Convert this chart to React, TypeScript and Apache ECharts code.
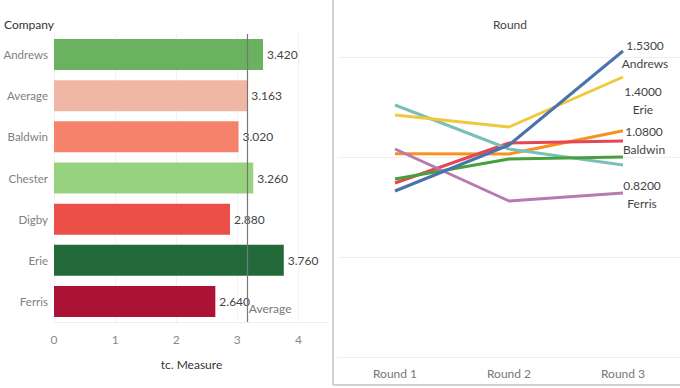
import React, { useEffect, useRef } from "react";
import * as echarts from "echarts";

const companies = ["Andrews", "Average", "Baldwin", "Chester", "Digby", "Erie", "Ferris"];
const tcMeasure = [3.42, 3.163, 3.02, 3.26, 2.88, 3.76, 2.64];
const barColors = ["#6ab25f", "#f0b7a4", "#f7826b", "#97d37f", "#ec4e48", "#236a3b", "#ab1236"];
const averageValue = 3.163;
const xTicks = [0, 1, 2, 3, 4];

const rounds = ["Round 1", "Round 2", "Round 3"];
const andrews = [0.83, 1.06, 1.53];
const average = [1.0167, 1.015, 1.1317];
const baldwin = [0.87, 1.07, 1.08];
const chester = [1.26, 1.04, 0.96];
const digby = [0.89, 0.99, 1.0];
const erie = [1.21, 1.15, 1.4];
const ferris = [1.04, 0.78, 0.82];
const lineColors = ["#4874ab", "#f8911f", "#e64553", "#7cbfb8", "#45a03d", "#f1c83a", "#b57ab0"];
const lineData = [andrews, average, baldwin, chester, digby, erie, ferris];
const labelled: Record<string, number[]> = {
  Andrews: [22, 3],
  Erie: [20, 23],
  Baldwin: [21, -1],
  Ferris: [19, 1],
};

const FONT = "Lato";

export default function App() {
  const ref = useRef<HTMLDivElement>(null);
  useEffect(() => {
    if (!ref.current) return;
    const chart = echarts.init(ref.current, undefined, { renderer: "svg" });
    const lineSeries = companies.map((name, i) => {
      const off = labelled[name];
      return {
        type: "line",
        name,
        xAxisIndex: 1,
        yAxisIndex: 1,
        data: lineData[i],
        symbol: "none",
        clip: false,
        z: name === "Andrews" ? 10 : 5,
        lineStyle: { width: 3, color: lineColors[i] },
        itemStyle: { color: lineColors[i] },
        endLabel: off
          ? {
              show: true,
              formatter: (p: any) => Number(p.value).toFixed(4) + "\n" + p.seriesName,
              align: "center",
              verticalAlign: "middle",
              distance: 0,
              offset: off,
              color: "#444",
              fontFamily: FONT,
              fontSize: 12,
              lineHeight: 18,
            }
          : { show: false },
      };
    });
    chart.setOption({
      animation: false,
      textStyle: { fontFamily: FONT },
      graphic: [
        { type: "text", left: 4, top: 18, style: { text: "Company", fill: "#333", fontSize: 12, fontFamily: FONT } },
        { type: "text", x: 510, y: 24, style: { text: "Round", fill: "#444", fontSize: 12, fontFamily: FONT, align: "center", verticalAlign: "middle" } },
        { type: "line", shape: { x1: 333, y1: 0, x2: 333, y2: 385 }, style: { stroke: "#bcc3cf", lineWidth: 1.5 } },
        { type: "line", shape: { x1: 333, y1: 385, x2: 680, y2: 385 }, style: { stroke: "#bcc3cf", lineWidth: 1.5 } },
      ],
      grid: [
        { left: 54, top: 34, width: 275, height: 288 },
        { left: 338, top: 57, right: 0, height: 300 },
      ],
      xAxis: [
        {
          type: "value",
          gridIndex: 0,
          min: 0,
          max: 4.5,
          interval: 1,
          name: "tc. Measure",
          nameLocation: "middle",
          nameGap: 36,
          nameTextStyle: { color: "#333", fontSize: 12, fontFamily: FONT },
          axisLine: { show: true, lineStyle: { color: "#eee" } },
          axisTick: { show: false },
          axisLabel: {
            color: "#888",
            fontSize: 12,
            margin: 11,
            formatter: (v: number) => (xTicks.includes(v) ? String(v) : ""),
          },
          splitLine: { show: true, lineStyle: { color: ["#f2f2f2", "#f2f2f2", "#f2f2f2", "#f2f2f2", "#f2f2f2", "rgba(0,0,0,0)"] } },
        },
        {
          type: "category",
          gridIndex: 1,
          data: rounds,
          axisLine: { show: true, lineStyle: { color: "#eee" } },
          axisTick: { show: false },
          axisLabel: { color: "#777", fontSize: 12, margin: 10 },
        },
      ],
      yAxis: [
        {
          type: "category",
          gridIndex: 0,
          inverse: true,
          data: companies,
          axisLine: { show: false },
          axisTick: { show: false },
          axisLabel: { color: "#808080", fontSize: 11.5, margin: 6 },
        },
        {
          type: "value",
          gridIndex: 1,
          min: 0,
          max: 1.5,
          interval: 0.5,
          axisLine: { show: false },
          axisTick: { show: false },
          axisLabel: { show: false },
          splitLine: { show: true, lineStyle: { color: "#f0f0f0" } },
        },
      ],
      series: [
        {
          type: "bar",
          xAxisIndex: 0,
          yAxisIndex: 0,
          barWidth: 31,
          data: tcMeasure.map((v, i) => ({ value: v, itemStyle: { color: barColors[i] } })),
          label: {
            show: true,
            position: "right",
            distance: 4,
            color: "#444",
            fontSize: 12,
            formatter: (p: any) => Number(p.value).toFixed(3),
          },
          markLine: {
            silent: true,
            symbol: "none",
            lineStyle: { color: "#777", width: 1.2, type: "solid" },
            label: {
              show: true,
              formatter: "Average",
              position: "end",
              distance: 0,
              offset: [23, -20],
              color: "#777",
              fontSize: 12,
              fontFamily: FONT,
            },
            data: [{ xAxis: averageValue }],
          },
        },
        ...lineSeries,
      ],
    });
    return () => chart.dispose();
  }, []);
  return <div ref={ref} style={{ position: "fixed", left: 0, top: 0, width: 680, height: 388, background: "#fff" }} />;
}
